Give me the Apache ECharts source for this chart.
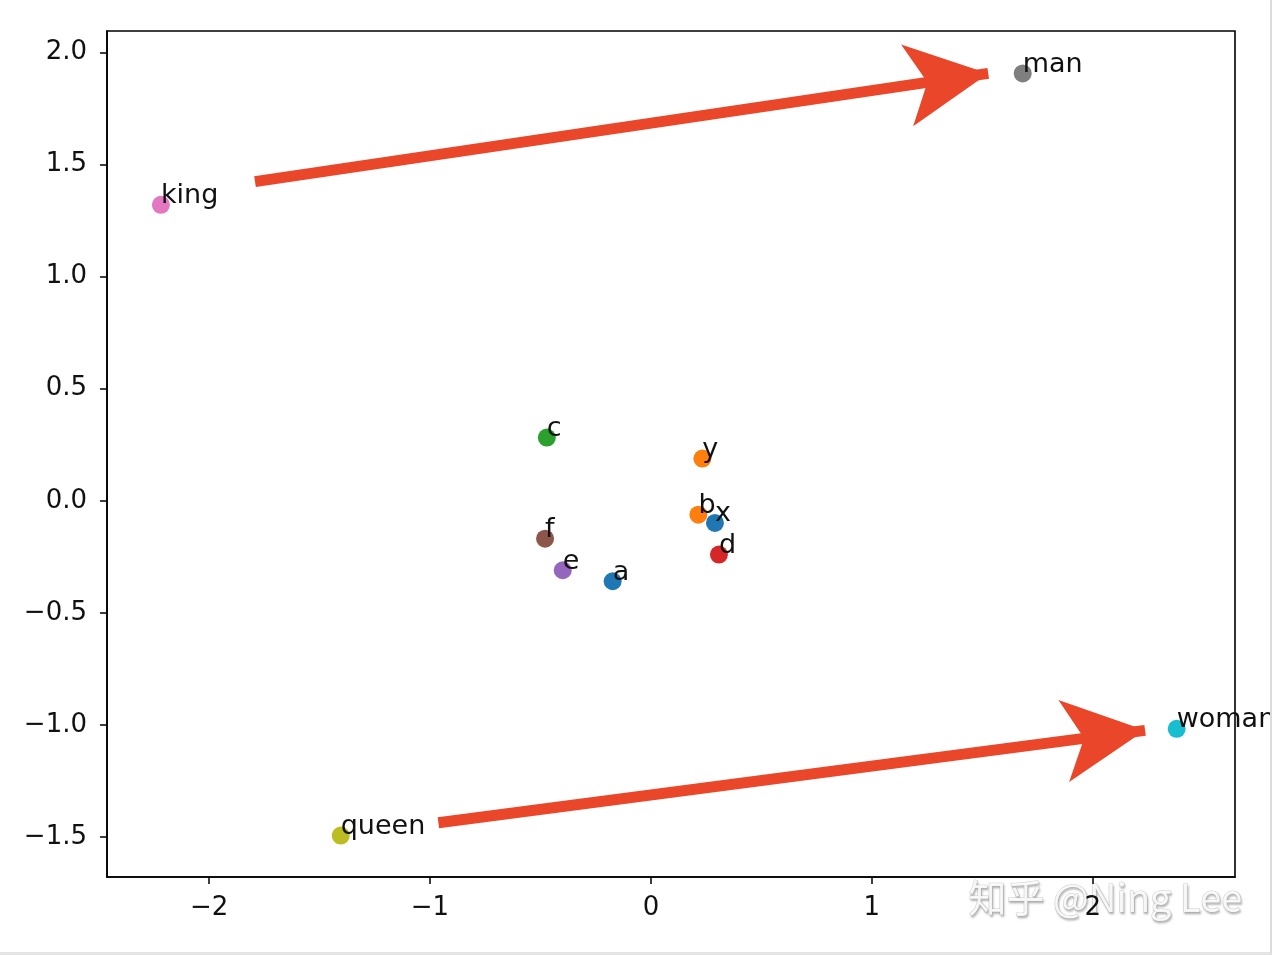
<!DOCTYPE html>
<html>
<head>
<meta charset="utf-8">
<script src="https://cdn.jsdelivr.net/npm/echarts@6/dist/echarts.min.js"></script>
<style>
  html, body { margin: 0; padding: 0; background: #fff; }
  #wrap { width: 1278px; height: 956px; position: relative; background: #fff; }
  #main { width: 1270px; height: 952px; border-right: 2px solid #dcdcdc; border-bottom: 3px solid #e4e4e4; }
</style>
</head>
<body>
<div id="wrap"><div id="main"></div></div>
<script>
// words and their 2d positions
let words = ['a', 'b', 'c', 'd', 'e', 'f', 'king', 'man', 'queen', 'woman', 'x', 'y'];
let xValues = [-0.173, 0.215, -0.471, 0.308, -0.399, -0.479, -2.218, 1.683, -1.404, 2.380, 0.290, 0.233];
let yValues = [-0.359, -0.062, 0.282, -0.240, -0.310, -0.169, 1.320, 1.906, -1.493, -1.017, -0.099, 0.188];
let colors = ['#1f77b4', '#ff7f0e', '#2ca02c', '#d62728', '#9467bd', '#8c564b',
    '#e377c2', '#7f7f7f', '#bcbd22', '#17becf', '#1f77b4', '#ff7f0e'];

let xTicks = [-2, -1, 0, 1, 2];
let yTicks = [-1.5, -1.0, -0.5, 0.0, 0.5, 1.0, 1.5, 2.0];

// arrows drawn on top (start, tip) in data coords
let arrowFrom = [[-1.792, 1.423], [-0.962, -1.436]];
let arrowTo = [[1.527, 1.906], [2.237, -1.024]];

const FONT = 'DejaVu Sans';

function minus(v) {
    return String(v).replace('-', '\u2212');
}

let points = words.map((w, i) => ({
    name: w,
    value: [xValues[i], yValues[i]],
    itemStyle: { color: colors[i], opacity: 1 }
}));

let arrows = arrowFrom.map((p, i) => ({ coords: [p, arrowTo[i]] }));

const option = {
    animation: false,
    backgroundColor: '#fff',
    grid: {
        left: 107, top: 31, width: 1128, height: 846,
        show: true, borderColor: '#000', borderWidth: 1.6
    },
    xAxis: {
        type: 'value',
        min: -2.462, max: 2.644,
        splitLine: { show: false },
        axisLine: { show: true, onZero: false, lineStyle: { color: '#000', width: 1.6 } },
        axisTick: { show: true, inside: false, length: 7, customValues: xTicks, lineStyle: { color: '#000', width: 1.5 } },
        axisLabel: {
            customValues: xTicks, margin: 18, color: '#111', fontFamily: FONT, fontSize: 26,
            formatter: v => minus(v)
        }
    },
    yAxis: {
        type: 'value',
        min: -1.678, max: 2.095,
        splitLine: { show: false },
        axisLine: { show: true, onZero: false, lineStyle: { color: '#000', width: 1.6 } },
        axisTick: { show: true, inside: false, length: 7, customValues: yTicks, lineStyle: { color: '#000', width: 1.5 } },
        axisLabel: {
            customValues: yTicks, margin: 20, color: '#111', fontFamily: FONT, fontSize: 26,
            formatter: v => minus(v.toFixed(1))
        }
    },
    graphic: [{
        type: 'text',
        left: 968, top: 878, z: 0, silent: true,
        style: {
            text: '知乎 @Ning Lee',
            font: '38px "Noto Sans CJK SC"',
            fill: 'rgba(252,252,252,0.9)',
            stroke: 'rgba(160,160,160,0.5)',
            lineWidth: 1,
            textShadowColor: 'rgba(130,130,130,0.6)',
            textShadowOffsetX: 1,
            textShadowOffsetY: 2,
            textShadowBlur: 2
        }
    }],
    series: [{
        type: 'scatter',
        symbolSize: 18,
        data: points,
        z: 3,
        label: {
            show: true,
            formatter: p => p.name,
            position: [9, 9],
            align: 'left',
            verticalAlign: 'bottom',
            offset: [0, 5],
            color: '#111',
            fontFamily: FONT,
            fontSize: 27
        }
    }, {
        type: 'lines',
        coordinateSystem: 'cartesian2d',
        z: 5,
        symbol: ['none', 'arrow'],
        symbolSize: [0, [62, 82]],
        lineStyle: { color: '#e9462a', width: 11, opacity: 1, curveness: 0 },
        itemStyle: { color: '#e9462a' },
        data: arrows
    }]
};

let plot = echarts.init(document.querySelector('#main'));
plot.setOption(option);
</script>
</body>
</html>
